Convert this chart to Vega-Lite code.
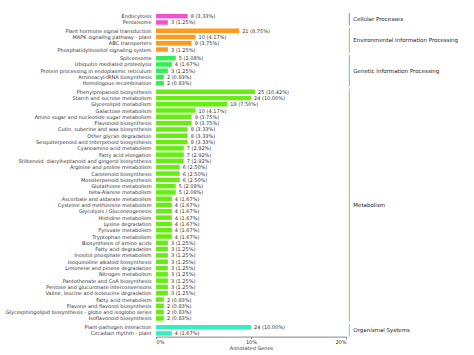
{
  "$schema": "https://vega.github.io/schema/vega-lite/v6.json",
  "padding": {"left": 5, "top": 12, "right": 0, "bottom": 0},
  "bounds": "flush",
  "config": {"font": "DejaVu Sans", "view": {"stroke": null}},
  "data": {"values": [
    {"name": "Endocytosis", "group": "Cellular Processes", "count": 8, "pct": 3.33, "order": 1},
    {"name": "Peroxisome", "group": "Cellular Processes", "count": 3, "pct": 1.25, "order": 2},
    {"name": "Plant hormone signal transduction", "group": "Environmental Information Processing", "count": 21, "pct": 8.75, "order": 3},
    {"name": "MAPK signaling pathway - plant", "group": "Environmental Information Processing", "count": 10, "pct": 4.17, "order": 4},
    {"name": "ABC transporters", "group": "Environmental Information Processing", "count": 9, "pct": 3.75, "order": 5},
    {"name": "Phosphatidylinositol signaling system", "group": "Environmental Information Processing", "count": 3, "pct": 1.25, "order": 6},
    {"name": "Spliceosome", "group": "Genetic Information Processing", "count": 5, "pct": 2.08, "order": 7},
    {"name": "Ubiquitin mediated proteolysis", "group": "Genetic Information Processing", "count": 4, "pct": 1.67, "order": 8},
    {"name": "Protein processing in endoplasmic reticulum", "group": "Genetic Information Processing", "count": 3, "pct": 1.25, "order": 9},
    {"name": "Aminoacyl-tRNA biosynthesis", "group": "Genetic Information Processing", "count": 2, "pct": 0.83, "order": 10},
    {"name": "Homologous recombination", "group": "Genetic Information Processing", "count": 2, "pct": 0.83, "order": 11},
    {"name": "Phenylpropanoid biosynthesis", "group": "Metabolism", "count": 25, "pct": 10.42, "order": 12},
    {"name": "Starch and sucrose metabolism", "group": "Metabolism", "count": 24, "pct": 10.0, "order": 13},
    {"name": "Glycerolipid metabolism", "group": "Metabolism", "count": 18, "pct": 7.5, "order": 14},
    {"name": "Galactose metabolism", "group": "Metabolism", "count": 10, "pct": 4.17, "order": 15},
    {"name": "Amino sugar and nucleotide sugar metabolism", "group": "Metabolism", "count": 9, "pct": 3.75, "order": 16},
    {"name": "Flavonoid biosynthesis", "group": "Metabolism", "count": 9, "pct": 3.75, "order": 17},
    {"name": "Cutin, suberine and wax biosynthesis", "group": "Metabolism", "count": 8, "pct": 3.33, "order": 18},
    {"name": "Other glycan degradation", "group": "Metabolism", "count": 8, "pct": 3.33, "order": 19},
    {"name": "Sesquiterpenoid and triterpenoid biosynthesis", "group": "Metabolism", "count": 8, "pct": 3.33, "order": 20},
    {"name": "Cyanoamino acid metabolism", "group": "Metabolism", "count": 7, "pct": 2.92, "order": 21},
    {"name": "Fatty acid elongation", "group": "Metabolism", "count": 7, "pct": 2.92, "order": 22},
    {"name": "Stilbenoid, diarylheptanoid and gingerol biosynthesis", "group": "Metabolism", "count": 7, "pct": 2.92, "order": 23},
    {"name": "Arginine and proline metabolism", "group": "Metabolism", "count": 6, "pct": 2.5, "order": 24},
    {"name": "Carotenoid biosynthesis", "group": "Metabolism", "count": 6, "pct": 2.5, "order": 25},
    {"name": "Monoterpenoid biosynthesis", "group": "Metabolism", "count": 6, "pct": 2.5, "order": 26},
    {"name": "Glutathione metabolism", "group": "Metabolism", "count": 5, "pct": 2.08, "order": 27},
    {"name": "beta-Alanine metabolism", "group": "Metabolism", "count": 5, "pct": 2.08, "order": 28},
    {"name": "Ascorbate and aldarate metabolism", "group": "Metabolism", "count": 4, "pct": 1.67, "order": 29},
    {"name": "Cysteine and methionine metabolism", "group": "Metabolism", "count": 4, "pct": 1.67, "order": 30},
    {"name": "Glycolysis / Gluconeogenesis", "group": "Metabolism", "count": 4, "pct": 1.67, "order": 31},
    {"name": "Histidine metabolism", "group": "Metabolism", "count": 4, "pct": 1.67, "order": 32},
    {"name": "Lysine degradation", "group": "Metabolism", "count": 4, "pct": 1.67, "order": 33},
    {"name": "Pyruvate metabolism", "group": "Metabolism", "count": 4, "pct": 1.67, "order": 34},
    {"name": "Tryptophan metabolism", "group": "Metabolism", "count": 4, "pct": 1.67, "order": 35},
    {"name": "Biosynthesis of amino acids", "group": "Metabolism", "count": 3, "pct": 1.25, "order": 36},
    {"name": "Fatty acid degradation", "group": "Metabolism", "count": 3, "pct": 1.25, "order": 37},
    {"name": "Inositol phosphate metabolism", "group": "Metabolism", "count": 3, "pct": 1.25, "order": 38},
    {"name": "Isoquinoline alkaloid biosynthesis", "group": "Metabolism", "count": 3, "pct": 1.25, "order": 39},
    {"name": "Limonene and pinene degradation", "group": "Metabolism", "count": 3, "pct": 1.25, "order": 40},
    {"name": "Nitrogen metabolism", "group": "Metabolism", "count": 3, "pct": 1.25, "order": 41},
    {"name": "Pantothenate and CoA biosynthesis", "group": "Metabolism", "count": 3, "pct": 1.25, "order": 42},
    {"name": "Pentose and glucuronate interconversions", "group": "Metabolism", "count": 3, "pct": 1.25, "order": 43},
    {"name": "Valine, leucine and isoleucine degradation", "group": "Metabolism", "count": 3, "pct": 1.25, "order": 44},
    {"name": "Fatty acid metabolism", "group": "Metabolism", "count": 2, "pct": 0.83, "order": 45},
    {"name": "Flavone and flavonol biosynthesis", "group": "Metabolism", "count": 2, "pct": 0.83, "order": 46},
    {"name": "Glycosphingolipid biosynthesis - globo and isoglobo series", "group": "Metabolism", "count": 2, "pct": 0.83, "order": 47},
    {"name": "Isoflavonoid biosynthesis", "group": "Metabolism", "count": 2, "pct": 0.83, "order": 48},
    {"name": "Plant-pathogen interaction", "group": "Organismal Systems", "count": 24, "pct": 10.0, "order": 49},
    {"name": "Circadian rhythm - plant", "group": "Organismal Systems", "count": 4, "pct": 1.67, "order": 50}
  ]},
  "transform": [{"calculate": "datum.count + ' (' + format(datum.pct, '.2f') + '%)'", "as": "label"}],
  "spacing": 1.5,
  "resolve": {"scale": {"y": "independent"}},
  "vconcat": [
    {"width": 190, "height": 12.6,
     "transform": [{"filter": "datum.group == 'Cellular Processes'"}],
     "layer": [
      {"mark": {"type": "bar"},
       "encoding": {
         "y": {"field": "name", "type": "nominal", "sort": {"field": "order"}, "scale": {"paddingInner": 0.28, "paddingOuter": 0.14},
           "axis": {"title": null, "labelFontSize": 5, "ticks": false, "domain": false, "labelPadding": 5, "labelLimit": 300, "labelColor": "#333"}},
         "x": {"field": "pct", "type": "quantitative", "scale": {"domain": [0, 20]}, "axis": null},
         "color": {"field": "group", "type": "nominal", "legend": null,
           "scale": {"domain": ["Cellular Processes", "Environmental Information Processing", "Genetic Information Processing", "Metabolism", "Organismal Systems"],
             "range": ["#EE55CC", "#FF9A1F", "#33EE55", "#66EE11", "#33EEC0"]}}}},
      {"mark": {"type": "text", "align": "left", "baseline": "middle", "dx": 3, "fontSize": 5, "color": "#333"},
       "encoding": {"y": {"field": "name", "type": "nominal", "sort": {"field": "order"}}, "x": {"field": "pct", "type": "quantitative"}, "text": {"field": "label"}}},
      {"transform": [{"aggregate": [{"op": "count", "as": "n"}], "groupby": ["group"]}],
       "mark": {"type": "rule", "strokeWidth": 1},
       "encoding": {"x": {"datum": 20.35, "type": "quantitative"}, "color": {"field": "group", "type": "nominal", "legend": null}}},
      {"transform": [{"aggregate": [{"op": "count", "as": "n"}], "groupby": ["group"]}],
       "mark": {"type": "text", "align": "left", "baseline": "middle", "dx": 4, "fontSize": 5.5, "color": "#222"},
       "encoding": {"x": {"datum": 20.35, "type": "quantitative"}, "text": {"field": "group"}}}
     ]},
    {"width": 190, "height": 25.2,
     "transform": [{"filter": "datum.group == 'Environmental Information Processing'"}],
     "layer": [
      {"mark": {"type": "bar"},
       "encoding": {
         "y": {"field": "name", "type": "nominal", "sort": {"field": "order"}, "scale": {"paddingInner": 0.28, "paddingOuter": 0.14},
           "axis": {"title": null, "labelFontSize": 5, "ticks": false, "domain": false, "labelPadding": 5, "labelLimit": 300, "labelColor": "#333"}},
         "x": {"field": "pct", "type": "quantitative", "scale": {"domain": [0, 20]}, "axis": null},
         "color": {"field": "group", "type": "nominal", "legend": null}}},
      {"mark": {"type": "text", "align": "left", "baseline": "middle", "dx": 3, "fontSize": 5, "color": "#333"},
       "encoding": {"y": {"field": "name", "type": "nominal", "sort": {"field": "order"}}, "x": {"field": "pct", "type": "quantitative"}, "text": {"field": "label"}}},
      {"transform": [{"aggregate": [{"op": "count", "as": "n"}], "groupby": ["group"]}],
       "mark": {"type": "rule", "strokeWidth": 1},
       "encoding": {"x": {"datum": 20.35, "type": "quantitative"}, "color": {"field": "group", "type": "nominal", "legend": null}}},
      {"transform": [{"aggregate": [{"op": "count", "as": "n"}], "groupby": ["group"]}],
       "mark": {"type": "text", "align": "left", "baseline": "middle", "dx": 4, "fontSize": 5.5, "color": "#222"},
       "encoding": {"x": {"datum": 20.35, "type": "quantitative"}, "text": {"field": "group"}}}
     ]},
    {"width": 190, "height": 31.5,
     "transform": [{"filter": "datum.group == 'Genetic Information Processing'"}],
     "layer": [
      {"mark": {"type": "bar"},
       "encoding": {
         "y": {"field": "name", "type": "nominal", "sort": {"field": "order"}, "scale": {"paddingInner": 0.28, "paddingOuter": 0.14},
           "axis": {"title": null, "labelFontSize": 5, "ticks": false, "domain": false, "labelPadding": 5, "labelLimit": 300, "labelColor": "#333"}},
         "x": {"field": "pct", "type": "quantitative", "scale": {"domain": [0, 20]}, "axis": null},
         "color": {"field": "group", "type": "nominal", "legend": null}}},
      {"mark": {"type": "text", "align": "left", "baseline": "middle", "dx": 3, "fontSize": 5, "color": "#333"},
       "encoding": {"y": {"field": "name", "type": "nominal", "sort": {"field": "order"}}, "x": {"field": "pct", "type": "quantitative"}, "text": {"field": "label"}}},
      {"transform": [{"aggregate": [{"op": "count", "as": "n"}], "groupby": ["group"]}],
       "mark": {"type": "rule", "strokeWidth": 1},
       "encoding": {"x": {"datum": 20.35, "type": "quantitative"}, "color": {"field": "group", "type": "nominal", "legend": null}}},
      {"transform": [{"aggregate": [{"op": "count", "as": "n"}], "groupby": ["group"]}],
       "mark": {"type": "text", "align": "left", "baseline": "middle", "dx": 4, "fontSize": 5.5, "color": "#222"},
       "encoding": {"x": {"datum": 20.35, "type": "quantitative"}, "text": {"field": "group"}}}
     ]},
    {"width": 190, "height": 233.1,
     "transform": [{"filter": "datum.group == 'Metabolism'"}],
     "layer": [
      {"mark": {"type": "bar"},
       "encoding": {
         "y": {"field": "name", "type": "nominal", "sort": {"field": "order"}, "scale": {"paddingInner": 0.28, "paddingOuter": 0.14},
           "axis": {"title": null, "labelFontSize": 5, "ticks": false, "domain": false, "labelPadding": 5, "labelLimit": 300, "labelColor": "#333"}},
         "x": {"field": "pct", "type": "quantitative", "scale": {"domain": [0, 20]}, "axis": null},
         "color": {"field": "group", "type": "nominal", "legend": null}}},
      {"mark": {"type": "text", "align": "left", "baseline": "middle", "dx": 3, "fontSize": 5, "color": "#333"},
       "encoding": {"y": {"field": "name", "type": "nominal", "sort": {"field": "order"}}, "x": {"field": "pct", "type": "quantitative"}, "text": {"field": "label"}}},
      {"transform": [{"aggregate": [{"op": "count", "as": "n"}], "groupby": ["group"]}],
       "mark": {"type": "rule", "strokeWidth": 1},
       "encoding": {"x": {"datum": 20.35, "type": "quantitative"}, "color": {"field": "group", "type": "nominal", "legend": null}}},
      {"transform": [{"aggregate": [{"op": "count", "as": "n"}], "groupby": ["group"]}],
       "mark": {"type": "text", "align": "left", "baseline": "middle", "dx": 4, "fontSize": 5.5, "color": "#222"},
       "encoding": {"x": {"datum": 20.35, "type": "quantitative"}, "text": {"field": "group"}}}
     ]},
    {"width": 190, "height": 12.6,
     "transform": [{"filter": "datum.group == 'Organismal Systems'"}],
     "layer": [
      {"mark": {"type": "bar"},
       "encoding": {
         "y": {"field": "name", "type": "nominal", "sort": {"field": "order"}, "scale": {"paddingInner": 0.28, "paddingOuter": 0.14},
           "axis": {"title": null, "labelFontSize": 5, "ticks": false, "domain": false, "labelPadding": 5, "labelLimit": 300, "labelColor": "#333"}},
         "x": {"field": "pct", "type": "quantitative", "scale": {"domain": [0, 20]},
           "axis": {"values": [0, 10, 20], "labelExpr": "datum.value + '%'", "grid": false, "labelFontSize": 5, "labelColor": "#333", "domainColor": "#888", "tickColor": "#888", "tickSize": 2, "labelPadding": 1, "title": "Annotated Genes", "titleFontSize": 5, "titleFontWeight": "normal", "titleColor": "#333", "titlePadding": 1}},
         "color": {"field": "group", "type": "nominal", "legend": null}}},
      {"mark": {"type": "text", "align": "left", "baseline": "middle", "dx": 3, "fontSize": 5, "color": "#333"},
       "encoding": {"y": {"field": "name", "type": "nominal", "sort": {"field": "order"}}, "x": {"field": "pct", "type": "quantitative"}, "text": {"field": "label"}}},
      {"transform": [{"aggregate": [{"op": "count", "as": "n"}], "groupby": ["group"]}],
       "mark": {"type": "rule", "strokeWidth": 1},
       "encoding": {"x": {"datum": 20.35, "type": "quantitative"}, "color": {"field": "group", "type": "nominal", "legend": null}}},
      {"transform": [{"aggregate": [{"op": "count", "as": "n"}], "groupby": ["group"]}],
       "mark": {"type": "text", "align": "left", "baseline": "middle", "dx": 4, "fontSize": 5.5, "color": "#222"},
       "encoding": {"x": {"datum": 20.35, "type": "quantitative"}, "text": {"field": "group"}}}
     ]}
  ]
}
